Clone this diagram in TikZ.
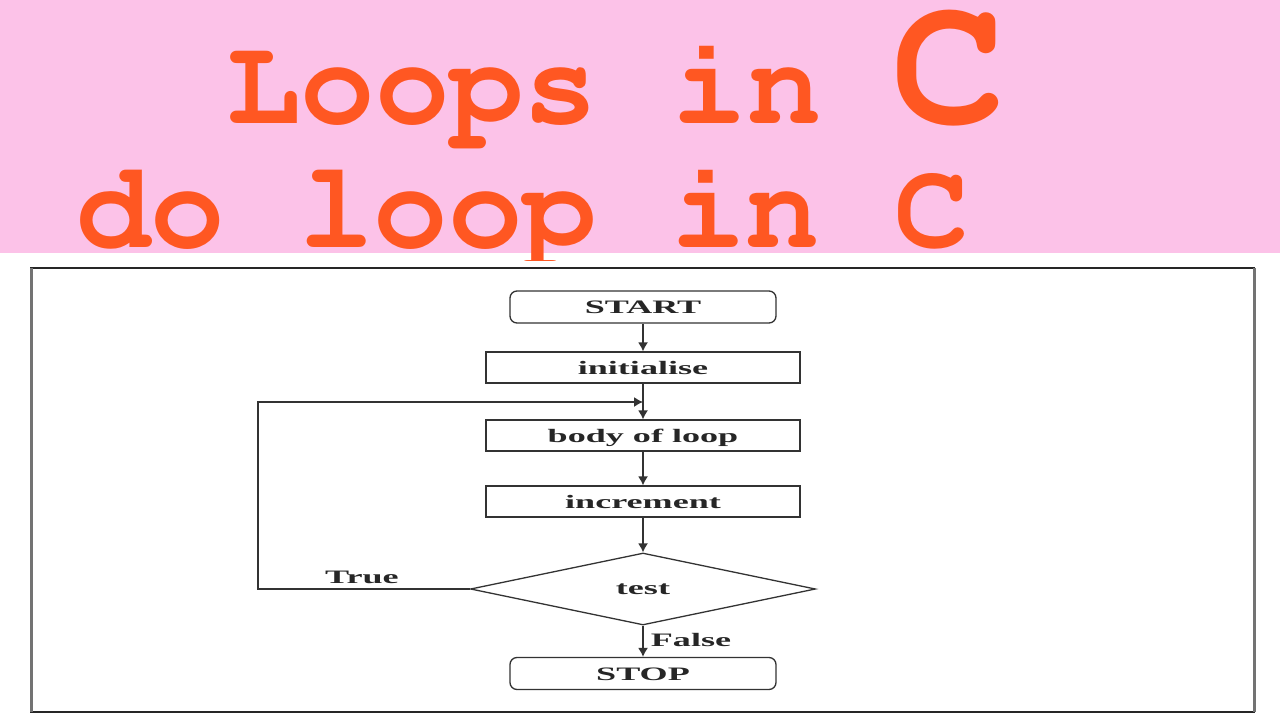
\documentclass[tikz,border=0pt]{standalone}
\usepackage[T1]{fontenc}
\usepackage{fontspec}
\setmainfont{Liberation Serif}
\newcommand{\courierbold}{\fontencoding{T1}\fontfamily{pcr}\fontseries{b}\selectfont}
\usepackage{graphicx}
\usetikzlibrary{positioning, arrows.meta, shapes.geometric}

\definecolor{bandpink}{RGB}{252,194,232}
\definecolor{titleorange}{RGB}{255,87,34}
\newcommand{\wide}[1]{\scalebox{1.9}[1]{\bfseries #1}}

\tikzset{
  block/.style={draw=black!80, line width=1.3pt, minimum width=314pt, minimum height=31pt,
    inner sep=0pt, text height=13pt, text depth=0pt, text=black!85, font=\fontsize{19}{19}\selectfont},
  terminal/.style={block, rounded corners=7pt, minimum width=266pt, minimum height=32pt},
  decision/.style={diamond, aspect=4.8, draw=black!80, line width=1.3pt, minimum width=345pt,
    minimum height=72pt, inner sep=0pt, text=black!85, font=\fontsize{19}{19}\selectfont},
  flow/.style={draw=black!80, line width=1.3pt, -{Latex[length=9pt,width=10pt]}},
  tag/.style={inner sep=0pt, text height=13pt, text depth=0pt, text=black!85, font=\fontsize{19}{19}\selectfont},
  heading/.style={anchor=base west, inner sep=0pt, text=titleorange,
    font=\courierbold\fontsize{124}{124}\selectfont}
}

\begin{document}
\begin{tikzpicture}[x=1pt, y=-1pt]
    \useasboundingbox (0,0) rectangle (1280,720);
    \fill[white] (0,0) rectangle (1280,720);

    % title band
    \fill[bandpink] (0,0) rectangle (1280,253);
    \node[heading] (title) at (226,123) {Loops in\hspace{-4pt} {\fontsize{190}{190}\selectfont C}};
    \node[heading] (subtitle) at (76,247) {do loop in C};
    \fill[white] (0,261) rectangle (1280,720);

    % frame
    \draw[black!85, line width=1.2pt] (31,268) rectangle (1254,712);
    \draw[black!55, line width=3pt] (31,268) -- (31,712);
    \draw[black!55, line width=3pt] (1254,268) -- (1254,712);

    % flowchart
    \node[terminal] (start) at (643,307) {\wide{START}};
    \node[block] (init) at (643,367.5) {\wide{initialise}};
    \node[block] (body) at (643,435.5) {\wide{body of loop}};
    \node[block] (incr) at (643,501.5) {\wide{increment}};
    \node[decision] (test) at (643,589) {\wide{test}};
    \node[terminal] (stop) at (643,673.5) {\wide{STOP}};
    \coordinate (join) at (643,402);
    \coordinate (corner) at (258,402);

    \draw[flow] (start) -- (init);
    \draw[flow] (init) -- (body);
    \draw[flow] (body) -- (incr);
    \draw[flow] (incr) -- (test);
    \draw[flow] (test) -- (stop);
    \draw[flow] (test.west) -- (test.west -| corner) -- (corner) -- (join);

    \node[tag] (truetag) at (362,577) {\wide{True}};
    \node[tag] (falsetag) at (691,640) {\wide{False}};
\end{tikzpicture}
\end{document}
